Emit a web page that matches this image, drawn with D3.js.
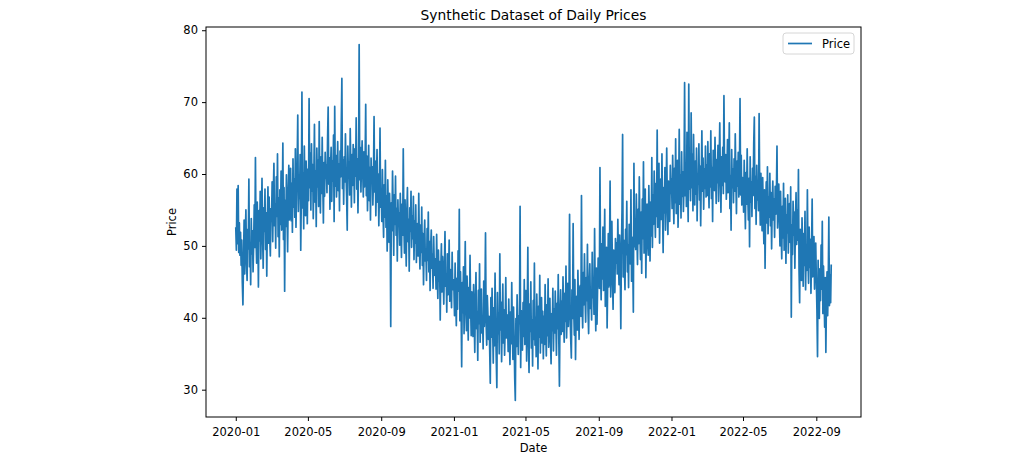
<!DOCTYPE html>
<html>
<head>
<meta charset="utf-8">
<script src="https://cdn.jsdelivr.net/npm/d3@7"></script>
<style>
  body { margin: 0; background: #fff; }
  svg text { font-family: "DejaVu Sans", sans-serif; fill: #000; }
</style>
</head>
<body>
<div id="chart"></div>
<script>
// Daily prices, one value per day starting 2020-01-01
const startDate = "2020-01-01";

const prices2020 = [
  52.6,49.4,57.9,50.3,58.4,49.1,53.2,48.7,51.9,47.3,50.8,44.9,41.8,48.2,53.6,46.1,51.4,55.0,47.8,45.2,52.3,49.6,59.3,47.1,50.5,44.6,53.8,48.9,52.1,46.4,50.2,
  55.7,49.8,62.3,51.2,47.6,56.1,52.4,44.3,54.9,50.7,57.6,48.2,53.1,59.4,51.8,46.9,55.3,52.0,57.9,49.5,54.6,45.8,53.7,58.2,50.4,56.8,51.1,48.6,55.2,
  53.4,58.9,50.6,57.2,61.5,52.8,55.9,49.7,59.6,54.1,62.8,51.3,56.7,48.5,57.8,53.0,60.4,52.2,55.6,64.3,50.9,58.1,43.7,56.3,52.7,59.9,54.5,49.2,57.4,61.2,53.6,
  56.2,60.8,53.5,58.7,51.9,62.1,55.4,59.3,54.0,63.5,52.6,57.9,61.0,68.2,54.8,58.4,56.6,62.7,49.4,57.1,71.4,55.3,60.2,52.4,63.9,57.6,54.2,61.8,58.5,53.1,
  60.7,56.3,70.5,58.1,62.9,55.0,64.2,57.6,61.3,53.8,59.8,66.9,56.1,60.4,52.7,63.6,58.2,61.9,55.5,67.3,59.0,54.6,62.4,57.3,65.1,58.8,53.2,61.6,56.9,63.0,59.4,
  61.2,57.4,64.8,69.3,58.6,62.3,55.1,60.9,63.7,56.2,61.8,59.0,65.4,53.4,69.4,58.3,62.6,56.8,60.1,64.5,57.7,61.4,54.9,63.2,59.6,66.7,73.3,58.0,62.0,55.8,
  62.4,58.9,65.6,60.2,56.7,52.2,63.9,59.5,61.7,57.1,66.3,60.8,55.4,62.7,58.4,64.1,61.3,56.0,63.5,59.7,67.8,57.9,62.1,54.6,60.6,78.0,59.2,63.7,57.5,61.9,64.6,
  60.3,56.8,63.1,58.2,61.6,69.7,57.0,62.5,54.9,59.8,64.0,56.3,60.9,53.6,62.2,58.7,61.0,55.7,59.4,68.0,57.5,61.8,54.2,58.9,63.4,56.1,60.0,52.8,57.7,66.4,55.4,
  57.8,53.4,60.6,55.1,51.2,58.5,54.0,61.9,52.6,56.9,49.3,59.2,54.7,50.5,57.3,53.8,38.8,56.0,52.1,60.4,55.6,48.7,57.1,53.0,59.7,51.5,55.2,47.9,56.4,52.8,
  54.6,50.1,57.3,52.7,48.4,55.8,51.5,63.5,53.2,49.0,56.4,51.9,47.2,54.9,58.1,50.6,53.7,46.5,55.3,52.0,57.6,49.8,54.1,51.0,56.9,48.1,53.5,50.4,55.7,47.7,52.6,
  53.1,48.6,57.3,50.2,46.8,52.9,49.1,55.4,47.3,51.7,44.6,50.8,53.6,47.9,49.5,45.2,52.4,48.0,54.7,46.4,50.6,43.8,49.7,52.2,46.9,48.8,44.1,51.3,47.4,45.9,
  48.2,44.0,51.6,46.3,42.7,49.4,45.1,47.8,39.7,46.9,50.3,43.6,48.5,45.7,41.9,47.2,52.0,44.4,46.1,40.8,48.9,43.2,45.6,50.8,42.3,46.7,44.8,41.4,49.1,43.9,45.3
];

const prices2021 = [
  44.1,40.3,47.6,42.8,38.9,45.5,41.2,49.3,43.7,55.1,39.6,46.4,42.0,33.2,44.9,40.7,47.1,37.8,43.3,50.6,41.5,38.2,45.8,42.4,36.9,44.2,40.0,48.7,41.8,37.5,43.6,
  41.9,37.4,44.6,39.8,35.2,42.7,46.3,38.5,40.9,34.1,43.8,39.2,47.5,36.6,41.3,44.0,37.9,40.2,35.7,45.1,38.8,42.5,51.8,39.4,36.2,43.1,40.5,37.0,
  40.2,35.6,30.9,42.8,37.3,44.1,38.6,33.7,41.4,36.1,46.2,39.0,34.4,30.3,43.5,37.8,40.7,35.0,48.9,38.3,42.2,33.9,39.6,44.7,36.5,41.1,34.8,38.9,45.6,37.2,40.4,
  39.1,35.3,42.6,37.7,33.5,40.8,36.4,44.9,38.0,34.2,41.5,37.1,31.6,28.5,39.9,36.0,43.2,38.7,34.9,40.3,39.2,55.5,33.1,41.0,38.4,35.5,42.1,37.4,45.3,36.3,
  37.6,43.8,34.0,40.5,49.8,36.7,32.4,41.9,38.1,45.0,35.8,39.7,33.3,42.4,37.0,47.6,36.2,40.1,34.6,43.3,38.6,32.9,41.6,37.3,45.9,35.1,39.4,42.8,36.5,40.9,34.3,
  40.2,36.3,44.6,38.9,34.7,41.8,37.5,45.4,35.9,39.3,42.7,36.8,33.6,40.6,38.2,44.1,35.4,41.2,37.9,43.7,39.6,34.8,42.0,38.5,46.0,36.9,30.5,40.8,43.9,37.7,
  42.3,38.1,45.7,40.0,36.6,43.4,39.5,47.2,37.2,41.7,44.8,38.8,42.5,54.4,40.3,36.9,34.4,43.9,39.9,53.1,41.1,37.6,45.3,34.2,40.7,43.0,38.3,46.6,41.4,37.0,44.2,
  44.5,40.2,57.0,42.1,38.6,46.3,41.8,48.9,43.0,39.4,45.6,42.4,50.2,40.9,37.8,44.7,47.5,41.3,43.8,39.7,49.1,42.8,45.2,40.5,52.4,43.6,38.2,46.9,39.1,44.0,48.3,
  48.2,44.1,60.9,46.7,42.5,50.3,45.4,52.6,43.8,47.9,55.1,41.6,46.2,49.8,38.6,45.0,51.7,44.3,48.5,59.0,42.9,47.1,53.4,45.8,41.2,49.4,46.0,43.5,51.0,47.6,
  50.4,46.1,53.7,48.2,44.6,51.5,47.3,38.5,49.6,54.9,65.5,45.7,50.8,47.0,43.9,52.3,48.8,56.2,46.4,50.1,44.2,53.0,49.3,47.5,57.8,45.1,51.2,48.0,40.8,61.5,49.9,
  53.8,49.5,57.2,51.6,47.4,55.1,50.3,59.6,52.4,48.1,54.7,46.2,56.5,51.0,61.7,49.0,53.3,57.9,45.6,52.1,55.8,50.6,48.7,58.4,53.0,47.9,56.1,51.4,62.3,49.8,
  57.1,53.0,60.4,55.3,51.2,58.7,54.1,66.1,52.6,57.8,61.5,50.4,56.2,59.3,53.7,62.8,55.0,49.1,58.1,54.6,60.9,52.2,57.5,63.6,55.9,51.6,59.0,56.7,53.4,61.2,57.3
];

const prices2022 = [
  59.3,55.2,62.6,57.4,53.1,60.8,56.0,64.9,54.5,58.7,61.9,52.6,57.6,66.2,55.8,59.9,53.9,63.1,56.9,60.3,54.8,58.5,72.7,57.0,61.4,55.5,65.8,59.1,53.4,72.5,57.9,
  60.4,56.3,68.5,58.1,62.7,54.9,65.5,59.3,55.7,61.8,57.2,63.6,53.5,60.0,58.6,64.2,56.4,61.1,52.8,59.7,66.0,57.6,62.2,55.1,60.7,58.0,63.9,56.8,
  61.2,57.0,64.5,59.4,55.3,62.8,58.2,66.0,56.6,60.9,53.4,63.3,59.0,57.7,65.1,60.3,55.9,62.0,58.8,64.0,56.2,61.6,67.1,59.6,54.7,62.4,58.4,63.7,57.3,70.9,60.6,
  58.9,62.7,56.5,60.3,64.8,57.4,61.0,67.1,55.2,59.8,52.2,63.4,58.1,60.7,56.0,62.1,57.6,65.6,59.2,54.5,61.8,58.3,63.0,56.8,60.0,70.5,57.1,62.6,55.7,59.5,
  58.6,54.7,61.9,56.9,52.4,60.2,55.8,63.5,57.3,53.6,59.4,49.9,62.4,56.1,58.9,54.1,60.8,57.0,64.3,67.9,55.2,59.7,53.0,61.2,56.4,58.3,54.9,68.4,57.7,52.9,60.1,
  56.2,52.1,59.5,54.6,50.3,57.8,46.9,55.0,58.9,53.2,61.0,51.7,56.8,54.0,60.1,52.8,57.4,49.6,55.9,59.0,53.6,56.5,51.2,58.3,54.4,57.0,63.9,52.5,55.3,58.6,
  54.1,50.0,57.6,52.3,48.2,55.5,51.1,58.7,49.4,53.8,56.6,47.6,54.3,51.8,57.1,49.0,53.2,55.9,50.5,58.2,40.1,52.9,48.8,56.2,51.5,54.7,46.9,53.5,57.4,50.2,55.0,
  50.8,60.6,46.7,42.1,52.3,48.5,45.2,53.9,49.6,44.4,51.7,47.3,54.8,43.9,50.1,46.6,57.8,48.1,44.8,52.6,47.0,50.9,43.4,49.3,56.5,45.7,48.8,51.3,44.0,47.9,50.4,
  45.3,41.2,34.6,48.0,43.5,39.9,46.8,42.4,50.1,44.0,53.4,40.6,47.2,43.1,38.7,45.6,35.2,42.8,46.4,40.3,44.7,54.0,41.7,46.0,42.1,47.4
];

const xTickLabels = ["2020-01", "2020-05", "2020-09", "2021-01", "2021-05", "2021-09", "2022-01", "2022-05", "2022-09"];
const yTicks = [30, 40, 50, 60, 70, 80];

const prices = prices2020.concat(prices2021, prices2022);
const day0 = d3.timeParse("%Y-%m-%d")(startDate);
const data = prices.map((p, i) => ({ date: d3.timeDay.offset(day0, i), price: p }));

const width = 1024;
const height = 462;
const margin = { top: 27, right: 163, bottom: 45, left: 206 };

const svg = d3.select("#chart")
  .append("svg")
  .attr("width", width)
  .attr("height", height);

// 5% padding on the time axis, like matplotlib
const ext = d3.extent(data, d => d.date);
const pad = (ext[1] - ext[0]) * 0.05;
const x = d3.scaleTime()
  .domain([new Date(+ext[0] - pad), new Date(+ext[1] + pad)])
  .range([margin.left, width - margin.right]);

const y = d3.scaleLinear()
  .domain([26.2, 80.45])
  .range([height - margin.bottom, margin.top]);

const parseMonth = d3.timeParse("%Y-%m");

// X axis
const xAxis = svg.append("g")
  .attr("transform", `translate(0,${height - margin.bottom})`)
  .call(d3.axisBottom(x)
    .tickValues(xTickLabels.map(parseMonth))
    .tickFormat(d3.timeFormat("%Y-%m"))
    .tickSize(4)
    .tickSizeOuter(0));
xAxis.select(".domain").remove();
xAxis.selectAll("text").attr("font-size", 11.5).attr("dy", "1.05em");

// Y axis
const yAxis = svg.append("g")
  .attr("transform", `translate(${margin.left},0)`)
  .call(d3.axisLeft(y).tickValues(yTicks).tickSize(4).tickSizeOuter(0));
yAxis.select(".domain").remove();
yAxis.selectAll("text").attr("font-size", 11.5).attr("x", -8);

// Line
const line = d3.line()
  .x(d => x(d.date))
  .y(d => y(d.price));

svg.append("path")
  .datum(data)
  .attr("fill", "none")
  .attr("stroke", "#1f77b4")
  .attr("stroke-width", 1.7)
  .attr("stroke-linejoin", "round")
  .attr("d", line);

// Frame
svg.append("rect")
  .attr("x", margin.left)
  .attr("y", margin.top)
  .attr("width", width - margin.left - margin.right)
  .attr("height", height - margin.top - margin.bottom)
  .attr("fill", "none")
  .attr("stroke", "#000")
  .attr("stroke-width", 1);

// Title and labels
svg.append("text")
  .attr("x", (margin.left + width - margin.right) / 2)
  .attr("y", 20)
  .attr("text-anchor", "middle")
  .attr("font-size", 13.8)
  .text("Synthetic Dataset of Daily Prices");

svg.append("text")
  .attr("x", (margin.left + width - margin.right) / 2)
  .attr("y", 452)
  .attr("text-anchor", "middle")
  .attr("font-size", 11.5)
  .text("Date");

svg.append("text")
  .attr("transform", `translate(176,${(margin.top + height - margin.bottom) / 2}) rotate(-90)`)
  .attr("text-anchor", "middle")
  .attr("font-size", 11.5)
  .text("Price");

// Legend
const legend = svg.append("g").attr("transform", "translate(783,33)");
legend.append("rect")
  .attr("width", 71)
  .attr("height", 21)
  .attr("rx", 3)
  .attr("fill", "#fff")
  .attr("fill-opacity", 0.8)
  .attr("stroke", "#d6d6d6");
legend.append("line")
  .attr("x1", 5).attr("x2", 29)
  .attr("y1", 10.5).attr("y2", 10.5)
  .attr("stroke", "#1f77b4")
  .attr("stroke-width", 1.7);
legend.append("text")
  .attr("x", 39)
  .attr("y", 14.5)
  .attr("font-size", 11.5)
  .text("Price");
</script>
</body>
</html>
